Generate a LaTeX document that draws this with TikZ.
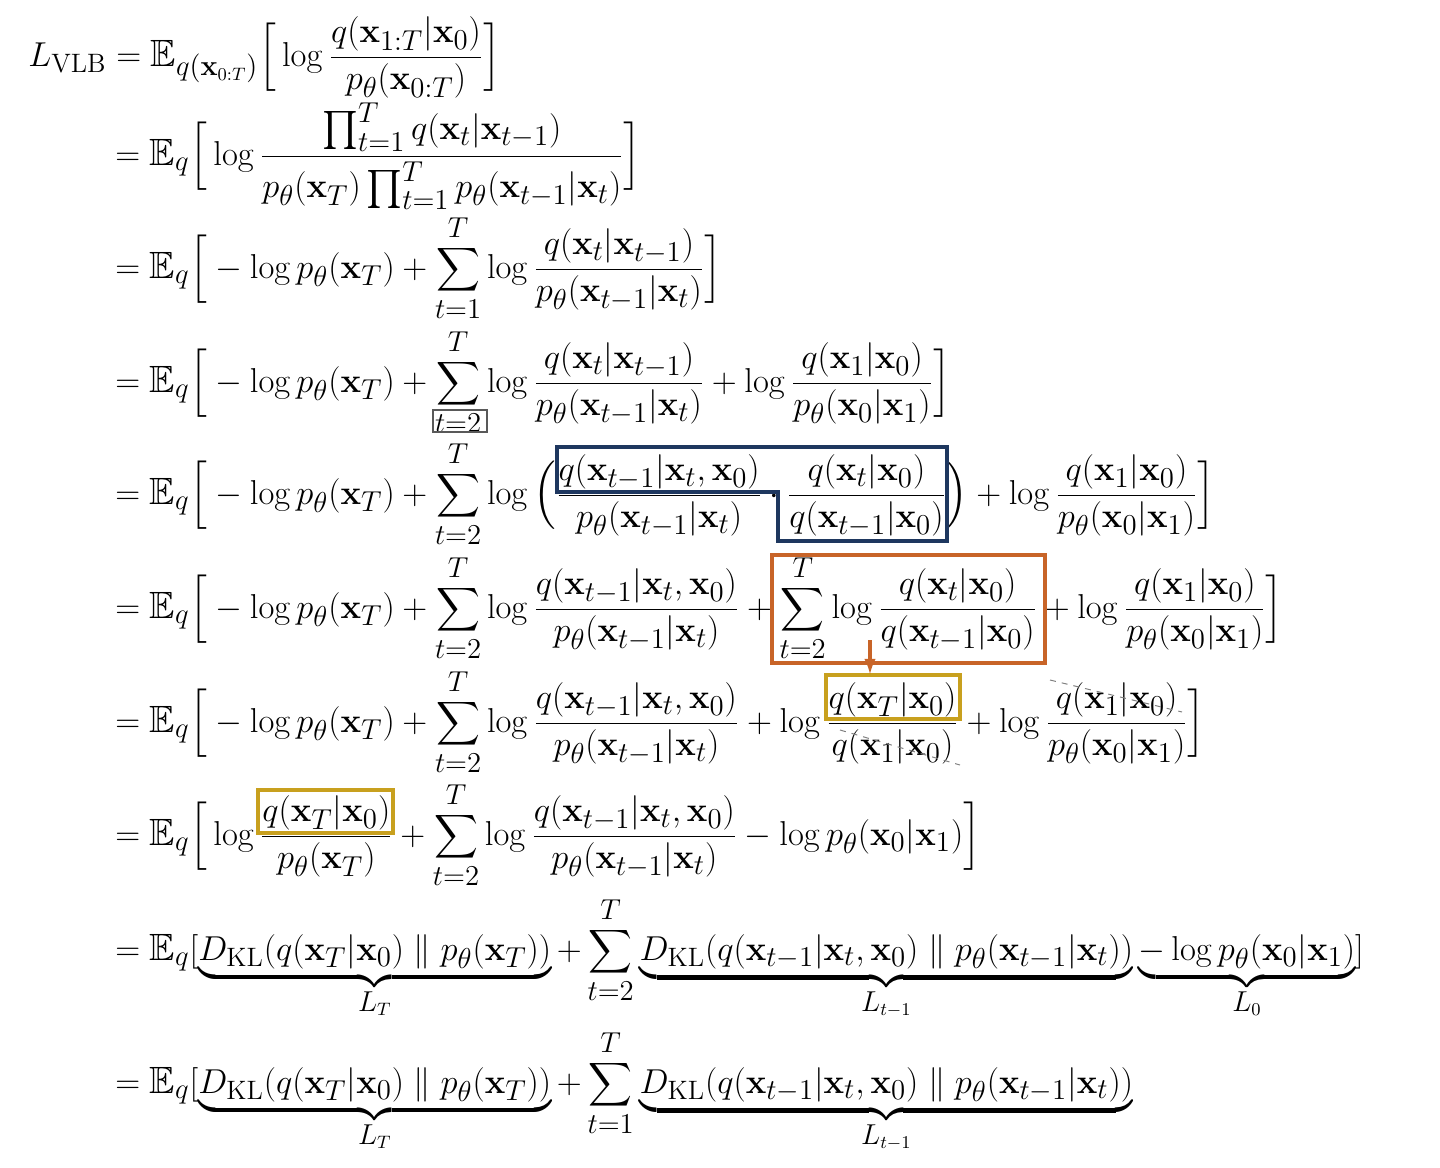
\documentclass[tikz,border=0pt]{standalone}
\usepackage{amsmath,amssymb,graphicx}
\newcommand{\xb}{\mathbf{x}}
\newcommand{\Sm}{\mathop{\vcenter{\hbox{\scalebox{0.8}{$\displaystyle\sum$}}}}\limits}
\begin{document}
\begin{tikzpicture}[x=0.5pt,y=-0.5pt,
  eq/.style={anchor=base west,inner sep=0pt,font=\fontsize{19}{23}\selectfont},
  bx/.style={line width=1.6pt}]
\useasboundingbox (0,0) rectangle (1440,1167);
\node[eq] (l1) at (28,66) {$L_\text{VLB} = \mathbb{E}_{q(\xb_{0:T})}\Big[\log\dfrac{q(\xb_{1:T}|\xb_0)}{p_\theta(\xb_{0:T})}\Big]$};
\node[eq] (l2) at (115,165) {$= \mathbb{E}_q\Big[\log\dfrac{\prod_{t=1}^T q(\xb_t|\xb_{t-1})}{p_\theta(\xb_T)\prod_{t=1}^T p_\theta(\xb_{t-1}|\xb_t)}\Big]$};
\node[eq] (l3) at (115,278) {$= \mathbb{E}_q\Big[-\log p_\theta(\xb_T)+\displaystyle\Sm_{t=1}^T\log\dfrac{q(\xb_t|\xb_{t-1})}{p_\theta(\xb_{t-1}|\xb_t)}\Big]$};
\node[eq] (l4) at (115,392) {$= \mathbb{E}_q\Big[-\log p_\theta(\xb_T)+\displaystyle\Sm_{t=2}^T\log\dfrac{q(\xb_t|\xb_{t-1})}{p_\theta(\xb_{t-1}|\xb_t)}+\log\dfrac{q(\xb_1|\xb_0)}{p_\theta(\xb_0|\xb_1)}\Big]$};
\node[eq] (l5) at (115,504) {$= \mathbb{E}_q\Big[-\log p_\theta(\xb_T)+\displaystyle\Sm_{t=2}^T\log\Big(\dfrac{q(\xb_{t-1}|\xb_t,\xb_0)}{p_\theta(\xb_{t-1}|\xb_t)}\cdot\dfrac{q(\xb_t|\xb_0)}{q(\xb_{t-1}|\xb_0)}\Big)+\log\dfrac{q(\xb_1|\xb_0)}{p_\theta(\xb_0|\xb_1)}\Big]$};
\node[eq] (l6) at (115,618) {$= \mathbb{E}_q\Big[-\log p_\theta(\xb_T)+\displaystyle\Sm_{t=2}^T\log\dfrac{q(\xb_{t-1}|\xb_t,\xb_0)}{p_\theta(\xb_{t-1}|\xb_t)}+\Sm_{t=2}^T\log\dfrac{q(\xb_t|\xb_0)}{q(\xb_{t-1}|\xb_0)}+\log\dfrac{q(\xb_1|\xb_0)}{p_\theta(\xb_0|\xb_1)}\Big]$};
\node[eq] (l7) at (115,732) {$= \mathbb{E}_q\Big[-\log p_\theta(\xb_T)+\displaystyle\Sm_{t=2}^T\log\dfrac{q(\xb_{t-1}|\xb_t,\xb_0)}{p_\theta(\xb_{t-1}|\xb_t)}+\log\dfrac{q(\xb_T|\xb_0)}{q(\xb_1|\xb_0)}+\log\dfrac{q(\xb_1|\xb_0)}{p_\theta(\xb_0|\xb_1)}\Big]$};
\node[eq] (l8) at (115,845) {$= \mathbb{E}_q\Big[\log\dfrac{q(\xb_T|\xb_0)}{p_\theta(\xb_T)}+\displaystyle\Sm_{t=2}^T\log\dfrac{q(\xb_{t-1}|\xb_t,\xb_0)}{p_\theta(\xb_{t-1}|\xb_t)}-\log p_\theta(\xb_0|\xb_1)\Big]$};
\node[eq] (l9) at (115,960) {$= \mathbb{E}_q[\underbrace{D_\text{KL}(q(\xb_T|\xb_0)\parallel p_\theta(\xb_T))}_{L_T}+\displaystyle\Sm_{t=2}^T\underbrace{D_\text{KL}(q(\xb_{t-1}|\xb_t,\xb_0)\parallel p_\theta(\xb_{t-1}|\xb_t))}_{L_{t-1}}\underbrace{-\log p_\theta(\xb_0|\xb_1)}_{L_0}]$};
\node[eq] (l10) at (115,1093) {$= \mathbb{E}_q[\underbrace{D_\text{KL}(q(\xb_T|\xb_0)\parallel p_\theta(\xb_T))}_{L_T}+\displaystyle\Sm_{t=1}^T\underbrace{D_\text{KL}(q(\xb_{t-1}|\xb_t,\xb_0)\parallel p_\theta(\xb_{t-1}|\xb_t))}_{L_{t-1}}$};
% boxes
\draw[gray!70!black,line width=0.8pt] (433,410) rectangle (487,432);
\draw[bx,color={rgb,255:red,30;green,55;blue,95}] (557,447) -- (947,447) -- (947,541) -- (778,541) -- (778,492) -- (557,492) -- cycle;
\draw[bx,color={rgb,255:red,200;green,100;blue,40}] (772,555) rectangle (1045,663);
\coordinate (a0) at (870,640);
\draw[bx,color={rgb,255:red,200;green,160;blue,30}] (826,675) rectangle (960,719);
\coordinate (a1) at (870,674);
\draw[bx,color={rgb,255:red,200;green,100;blue,40},-latex] (a0) -- (a1);
\draw[bx,color={rgb,255:red,200;green,160;blue,30}] (258,790) rectangle (393,833);
\draw[gray,dashed,line width=0.5pt] (840,730) -- (960,765);
\draw[gray,dashed,line width=0.5pt] (1050,680) -- (1182,712);
\end{tikzpicture}
\end{document}
